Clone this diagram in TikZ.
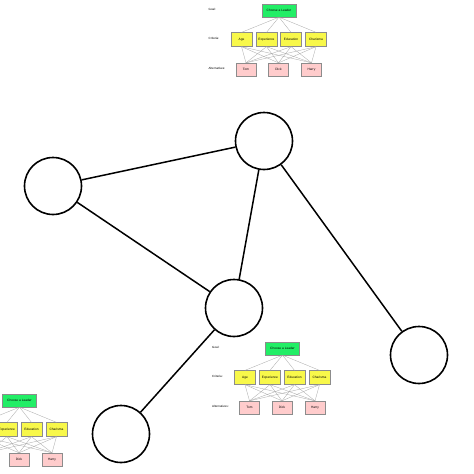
\documentclass[tikz,border=0pt]{standalone}
\usepackage{fontspec}
\setmainfont{Liberation Sans}
\usetikzlibrary{shadows}
\definecolor{goalgreen}{HTML}{22EE66}
\definecolor{crityellow}{HTML}{F8F84A}
\definecolor{altpink}{HTML}{FFCCCC}
\tikzset{
  ahpbox/.style={draw=black!45, line width=0.3pt, inner sep=0pt,
    font=\fontsize{3.2}{3.6}\selectfont,
    drop shadow={shadow xshift=0.9pt, shadow yshift=-0.9pt, fill=black!45, opacity=0.7}},
  goalbox/.style={ahpbox, fill=goalgreen, minimum width=34pt, minimum height=13pt},
  critbox/.style={ahpbox, fill=crityellow, minimum width=21pt, minimum height=14pt},
  altbox/.style={ahpbox, fill=altpink, minimum width=20pt, minimum height=13pt},
  ahplink/.style={draw=black!35, line width=0.3pt},
  ahplabel/.style={font=\fontsize{3}{3.2}\selectfont, anchor=west, inner sep=0pt},
  bignode/.style={circle, draw, line width=1.6pt, minimum size=57pt, inner sep=0pt},
  bigedge/.style={line width=1.5pt},
  pics/ahp/.style={code={
    \node[ahplabel] (-lg) at (-70.5,-1) {Goal:};
    \node[ahplabel] (-lc) at (-70.5,28) {Criteria:};
    \node[ahplabel] (-la) at (-70.5,58) {Alternatives:};
    \node[goalbox] (-g) at (0,0) {Choose a Leader};
    \node[critbox] (-c1) at (-37.5,29) {Age};
    \node[critbox] (-c2) at (-12.5,29) {Experience};
    \node[critbox] (-c3) at (12,29) {Education};
    \node[critbox] (-c4) at (37,29) {Charisma};
    \node[altbox] (-a1) at (-33,59) {Tom};
    \node[altbox] (-a2) at (-0.5,59) {Dick};
    \node[altbox] (-a3) at (32.5,59) {Harry};
    \foreach \c in {1,2,3,4}{
      \draw[ahplink] (-g.south) -- (-c\c.north);
      \foreach \a in {1,2,3}{
        \draw[ahplink] (-c\c.south) -- (-a\a.north);
      }
    }
  }}
}
\begin{document}
\begin{tikzpicture}[x=1pt,y=-1pt]
\clip (0,0) rectangle (474,474);
\fill[white] (0,0) rectangle (474,474);
% AHP diagrams
\pic (ahpa) at (279,10.5) {ahp};
\pic (ahpb) at (282.5,348.5) {ahp};
\pic (ahpc) at (19.5,400.5) {ahp};
% graph
\node[bignode] (A) at (264,141) {};
\node[bignode] (B) at (53,186) {};
\node[bignode] (C) at (234,308) {};
\node[bignode] (D) at (419,355) {};
\node[bignode] (E) at (121,434) {};
\draw[bigedge] (B) -- (A);
\draw[bigedge] (B) -- (C);
\draw[bigedge] (A) -- (C);
\draw[bigedge] (A) -- (D);
\draw[bigedge] (C) -- (E);
\end{tikzpicture}
\end{document}
